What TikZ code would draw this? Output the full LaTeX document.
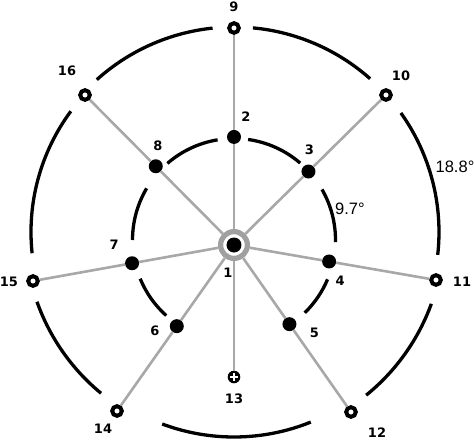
\documentclass[tikz,border=0pt]{standalone}
\usepackage{fontspec}
\setmainfont{Liberation Sans}
\newfontfamily\numfont{DejaVu Sans}
\usetikzlibrary{calc}
\definecolor{spokegray}{RGB}{168,168,168}
\definecolor{hubgray}{RGB}{160,160,160}

\begin{document}
\begin{tikzpicture}[x=1pt,y=1pt,
    spoke/.style={draw=spokegray, line width=2.6pt},
    rim/.style={line width=3.3pt},
    hub/.style={circle, draw=hubgray, fill=white, line width=5.2pt, minimum size=26.8pt, inner sep=0pt,
      path picture={\fill[black] (path picture bounding box.center) circle (7.5);}},
    inner/.style={circle, fill=black, minimum size=14pt, inner sep=0pt},
    outer/.style={circle, draw=black, fill=white, line width=4pt, minimum size=9.6pt, inner sep=0pt},
    plusmark/.style={circle, fill=black, minimum size=12.6pt, inner sep=0pt,
      path picture={\draw[white, line width=2pt] (path picture bounding box.center) +(-3.6,0) -- +(3.6,0)
        (path picture bounding box.center) +(0,-3.6) -- +(0,3.6);}},
    lbl/.style={font=\numfont\bfseries\fontsize{13}{13}\selectfont},
    ang/.style={font=\fontsize{16.5}{16.5}\selectfont}]
  \useasboundingbox (-234,-195) rectangle (240,245);
  \coordinate (oc) at (0,13);
  \coordinate (ic) at (0,5);

  % rims
  \foreach \a/\b/\r in {96/132/205, 143.5/186/203, 199.5/230.5/209, 249.5/292/205,
      309/340/210, 353.6/395.5/205, 408.4/444.7/205}
    \draw[rim] (oc) ++(\a:\r) arc[start angle=\a, end angle=\b, radius=\r];
  \foreach \a/\b in {82/49.3, 99.3/131, 149.4/180, 202.4/228.1, 314.2/337.2, 358.8/389.9}
    \draw[rim] (ic) ++(\a:101.5) arc[start angle=\a, end angle=\b, radius=101.5];

  % markers
  \node[hub] (n1) at (0,0) {};
  \foreach \n/\p in {9/{0,217}, 10/{152,150}, 11/{202,-35}, 12/{117,-167},
      14/{-117,-166}, 15/{-201,-36}, 16/{-149,150}}
    \node[outer] (n\n) at (\p) {};
  \node[plusmark] (n13) at (0,-132) {};
  \foreach \n/\m/\t in {2/9/0.498, 3/10/0.490, 4/11/0.471, 5/12/0.474,
      6/14/0.489, 7/15/0.507, 8/16/0.525}
    \node[inner] (n\n) at ($(n1)!\t!(n\m)$) {};

  % spokes
  \foreach \n/\m in {2/9, 3/10, 4/11, 5/12, 6/14, 7/15, 8/16}
    \draw[spoke] (n1) -- (n\n) -- (n\m);
  \draw[spoke] (n1) -- (n13);

  % numbers
  \foreach \n/\dx/\dy in {1/-6/-28, 2/12/20, 3/1/22, 4/11/-19, 5/25/-9, 6/-22/-5,
      7/-18/18, 8/2/20, 9/0/21, 10/15/19, 11/26/-2, 12/26/-21, 13/0/-22,
      14/-14/-18, 15/-24/-1, 16/-18/24}
    \node[lbl] (l\n) at ($(n\n)+(\dx,\dy)$) {\n};
  \node[ang] (a1) at (116,36) {9.7°};
  \node[ang] (a2) at (221,78) {18.8°};
\end{tikzpicture}
\end{document}
